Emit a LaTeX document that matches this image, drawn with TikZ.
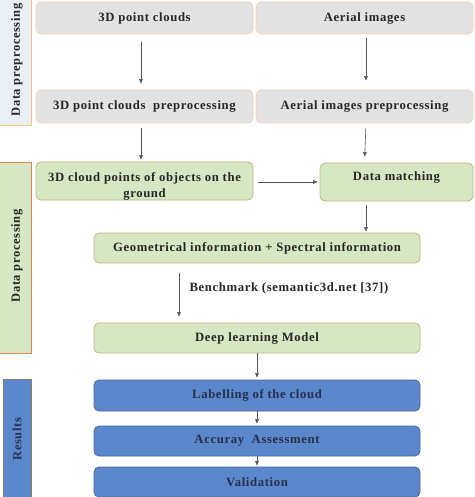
\documentclass[tikz,border=0pt]{standalone}
\usepackage{fontspec}
\setmainfont{Liberation Serif}[LetterSpace=5]
\usetikzlibrary{arrows.meta,calc}
\definecolor{grayfill}{HTML}{E2E2E2}
\definecolor{grayedge}{HTML}{F3D3B5}
\definecolor{greenfill}{HTML}{D5E8C3}
\definecolor{greenedge}{HTML}{C4B47E}
\definecolor{bluefill}{HTML}{5B87CC}
\definecolor{blueedge}{HTML}{4D6796}
\definecolor{txt}{HTML}{262626}
\definecolor{bluetxt}{HTML}{26304A}
\definecolor{sideAfill}{HTML}{EAEEF5}
\definecolor{sideAedge}{HTML}{F5C68C}
\definecolor{sideBedge}{HTML}{D0894E}
\definecolor{sideCedge}{HTML}{8C7A62}
\definecolor{arrowc}{HTML}{555555}
\tikzset{
  boxfont/.style={font=\bfseries\fontsize{12.7}{16}\selectfont},
  box/.style={rectangle, rounded corners=5pt, line width=0.8pt, inner sep=0pt, align=center, boxfont},
  graybox/.style={box, fill=grayfill, draw=grayedge, text=txt},
  greenbox/.style={box, fill=greenfill, draw=greenedge, text=txt},
  bluebox/.style={box, fill=bluefill, draw=blueedge, text=bluetxt},
  sidebox/.style={rectangle, line width=0.9pt, inner sep=0pt},
  sidetext/.style={rotate=90, font=\bfseries\fontsize{12.5}{14}\selectfont, text=black!85},
  arr/.style={draw=arrowc, line width=0.6pt, -{Triangle[length=4.5pt,width=3.5pt]}}
}
\begin{document}
\begin{tikzpicture}[x=1pt,y=-1pt]
\useasboundingbox (0,0) rectangle (474,497);
% side boxes
\node[sidebox, fill=sideAfill, draw=sideAedge, minimum width=33pt, minimum height=130pt] (sp) at (14.5,60) {};
\node[sidetext] (spt) at (17,60) {Data preprocessing};
\node[sidebox, fill=greenfill, draw=sideBedge, minimum width=33pt, minimum height=191pt] (sd) at (14.5,257.5) {};
\node[sidetext] (sdt) at (17,256) {Data processing};
\node[sidebox, fill=bluefill, draw=sideCedge, minimum width=28pt, minimum height=121pt] (sr) at (17,439.5) {};
\node[sidetext, text=bluetxt] (srt) at (17,439) {Results};
% main boxes
\node[graybox, minimum width=217pt, minimum height=32pt] (pc) at (144.5,18) {3D point clouds};
\node[graybox, minimum width=217pt, minimum height=32pt] (ai) at (364.5,18) {Aerial images};
\node[graybox, minimum width=217pt, minimum height=33pt] (pcp) at (144.5,106.5) {3D point clouds\ \ preprocessing};
\node[graybox, minimum width=217pt, minimum height=33pt] (aip) at (364.5,106.5) {Aerial images preprocessing};
\node[greenbox, minimum width=217pt, minimum height=38pt] (cpg) at (144.5,181) {};
\node[boxfont, text=txt, align=center, inner sep=0pt] (cpgt) at (144.5,186) {3D cloud points of objects on the\\ground};
\node[greenbox, minimum width=153pt, minimum height=38pt] (dm) at (396.5,182) {};
\node[boxfont, text=txt, inner sep=0pt] (dmt) at (396.5,177) {Data matching};
\node[greenbox, minimum width=326pt, minimum height=30pt] (geo) at (257,248) {Geometrical information + Spectral information};
\node[greenbox, minimum width=326pt, minimum height=30pt] (dl) at (257,338) {Deep learning Model};
\node[bluebox, minimum width=326pt, minimum height=31pt] (lab) at (257,395.5) {Labelling of the cloud};
\node[bluebox, minimum width=326pt, minimum height=30pt] (acc) at (257,441) {Accuray\ \ Assessment};
\node[bluebox, minimum width=326pt, minimum height=30pt] (val) at (257,482) {Validation};
\node[anchor=west, boxfont, text=txt] (bm) at (186,288) {Benchmark (semantic3d.net [37])};
% arrows
\draw[arr, shorten <=8pt, shorten >=6pt] ([xshift=-3.5pt]pc.south) -- ([xshift=-3.5pt]pcp.north);
\draw[arr, shorten <=4pt, shorten >=9pt] ([xshift=1.5pt]ai.south) -- ([xshift=1.5pt]aip.north);
\draw[arr, shorten <=5pt, shorten >=2pt] ([xshift=-3.5pt]pcp.south) -- ([xshift=-3.5pt]cpg.north);
\draw[arr, shorten <=5pt, shorten >=6pt] ([xshift=1.5pt]aip.south) -- (aip.south |- dm.north);
\draw[arr, shorten <=5pt, shorten >=2pt] (cpg.east |- dm.west) -- (dm.west);
\draw[arr, shorten <=4pt, shorten >=1pt] ([xshift=-30.5pt]dm.south) -- ([xshift=-30.5pt]dm.south |- geo.north);
\draw[arr, shorten <=10pt, shorten >=6pt] ([xshift=-78pt]geo.south) -- ([xshift=-78pt]dl.north);
\draw[arr, shorten >=2pt] (dl.south) -- (lab.north);
\draw[arr, shorten <=0pt, shorten >=2pt] (lab.south) -- (acc.north);
\draw[arr, shorten >=1pt] (acc.south) -- (val.north);
\end{tikzpicture}
\end{document}
